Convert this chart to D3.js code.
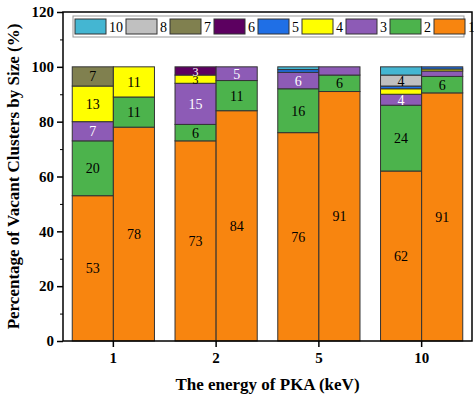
<!DOCTYPE html>
<html>
<head>
<meta charset="UTF-8">
<script src="https://d3js.org/d3.v7.min.js"></script>
<style>body{margin:0;background:#fff}text{font-family:"Liberation Serif",serif}</style>
</head>
<body>
<svg id="chart" width="474" height="402"></svg>
<script>
// data
const groups = ["1", "2", "5", "10"];
const sizes = ["1", "2", "3", "4", "5", "6", "7", "8", "10"];
const colors = ["#f8850f", "#4cb34c", "#8d5bb6", "#ffff00", "#1f6fe6", "#5c0060", "#80804f", "#c0c0c0", "#44b6d2"];
// each bar: percentages for sizes 1,2,3,4,5,6,7,8,10
const bars = [
  { group: "1", side: 0, values: [53, 20, 7, 13, 0, 0, 7, 0, 0] },
  { group: "1", side: 1, values: [78, 11, 0, 11, 0, 0, 0, 0, 0] },
  { group: "2", side: 0, values: [73, 6, 15, 3, 0, 3, 0, 0, 0] },
  { group: "2", side: 1, values: [84, 11, 5, 0, 0, 0, 0, 0, 0] },
  { group: "5", side: 0, values: [76, 16, 6, 0, 1, 0, 0, 0, 1] },
  { group: "5", side: 1, values: [91, 6, 3, 0, 0, 0, 0, 0, 0] },
  { group: "10", side: 0, values: [62, 24, 4, 2, 1, 0, 0, 4, 3] },
  { group: "10", side: 1, values: [90.5, 6, 2, 0.7, 0.8, 0, 0, 0, 0] }
];
const yTicks = [0, 20, 40, 60, 80, 100, 120];

const svg = d3.select("#chart");
const m = { left: 63, right: 472, top: 12, bottom: 341 };

const x = d3.scaleBand().domain(groups).range([m.left, m.right]).paddingInner(0.2).paddingOuter(0.09);
const y = d3.scaleLinear().domain([0, 120]).range([m.bottom, m.top]);
const half = x.bandwidth() / 2;

// bars
bars.forEach(b => {
  let acc = 0;
  const g = svg.append("g");
  b.values.forEach((v, i) => {
    if (v <= 0) return;
    const x0 = x(b.group) + b.side * half;
    g.append("rect")
      .attr("x", x0).attr("width", half)
      .attr("y", y(acc + v)).attr("height", y(acc) - y(acc + v))
      .attr("fill", colors[i]).attr("stroke", "#333").attr("stroke-width", 1);
    if (v >= 4 || (v >= 3 && b.group === "2")) {
      g.append("text")
        .attr("x", x0 + half / 2).attr("y", y(acc + v / 2) + 5)
        .attr("text-anchor", "middle").attr("font-size", v < 4 ? 12 : 14)
        .attr("fill", i === 2 || i === 5 ? "#fff" : "#000")
        .text(Math.round(v));
    }
    acc += v;
  });
});

// frame
svg.append("rect").attr("x", m.left).attr("y", m.top)
  .attr("width", m.right - m.left).attr("height", m.bottom - m.top)
  .attr("fill", "none").attr("stroke", "#000").attr("stroke-width", 1.5);

// y axis
const yAxis = svg.append("g").attr("transform", `translate(${m.left},0)`)
  .call(d3.axisLeft(y).tickValues(yTicks).tickSize(6).tickPadding(3));
yAxis.select(".domain").remove();
yAxis.selectAll("text").attr("font-size", 15).attr("font-weight", "bold").attr("font-family", "Liberation Serif");
yAxis.selectAll("line").attr("stroke-width", 1.5);
svg.append("g").attr("transform", `translate(${m.left},0)`)
  .call(d3.axisLeft(y).tickValues(d3.range(10, 120, 20)).tickSize(3).tickFormat(""))
  .call(g => g.select(".domain").remove());

// x axis
const xAxis = svg.append("g").attr("transform", `translate(0,${m.bottom})`)
  .call(d3.axisBottom(x).tickSize(6).tickPadding(5));
xAxis.select(".domain").remove();
xAxis.selectAll("text").attr("font-size", 15).attr("font-weight", "bold").attr("font-family", "Liberation Serif");
xAxis.selectAll("line").attr("stroke-width", 1.5);

// axis titles
svg.append("text").attr("x", (m.left + m.right) / 2).attr("y", 390)
  .attr("text-anchor", "middle").attr("font-size", 17).attr("font-weight", "bold")
  .text("The energy of PKA (keV)");
svg.append("text").attr("transform", `translate(19,${(m.top + m.bottom) / 2}) rotate(-90)`)
  .attr("text-anchor", "middle").attr("font-size", 17).attr("font-weight", "bold")
  .text("Percentage of Vacant Clusters by Size (%)");

// legend
const legendOrder = ["10", "8", "7", "6", "5", "4", "3", "2", "1"];
const lg = svg.append("g");
lg.append("rect").attr("x", 73).attr("y", 16).attr("width", 391).attr("height", 21)
  .attr("fill", "#fff").attr("stroke", "#999");
let lx = 75;
legendOrder.forEach(s => {
  const i = sizes.indexOf(s);
  lg.append("rect").attr("x", lx).attr("y", 19).attr("width", 31).attr("height", 15)
    .attr("fill", colors[i]).attr("stroke", "#333");
  const t = lg.append("text").attr("x", lx + 34).attr("y", 32).attr("font-size", 14).text(s);
  lx += 34 + t.node().getComputedTextLength() + 3;
});
</script>
</body>
</html>
